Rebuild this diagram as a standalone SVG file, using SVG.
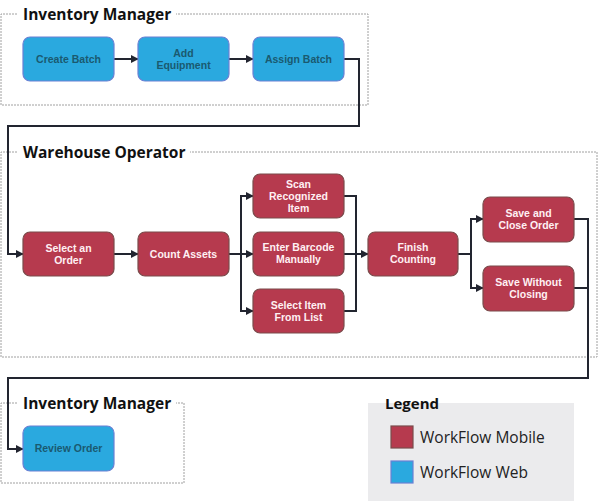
<svg xmlns="http://www.w3.org/2000/svg" width="598" height="501" viewBox="0 0 598 501">
<defs>
<marker id="ah" viewBox="0 0 10 10" refX="9" refY="5" markerWidth="8" markerHeight="8" markerUnits="userSpaceOnUse" orient="auto">
<path d="M0,0 L10,5 L0,10 z" fill="#222530"/>
</marker>
<style>
.lane{fill:none;stroke:#a0a0a0;stroke-width:1;stroke-dasharray:2,1}
.ltitle{font-family:"Open Sans","DejaVu Sans",sans-serif;font-weight:700;font-size:15.5px;fill:#111}
.web rect{fill:#2aa9df;stroke:#6a80d4;stroke-width:1.2}
.mob rect{fill:#b63a4e;stroke:#7a4b4b;stroke-width:1.2}
.web text{font-family:"Liberation Sans",Arial,sans-serif;font-weight:700;font-size:10.5px;fill:#1a5a70;text-anchor:middle}
.mob text{font-family:"Liberation Sans",Arial,sans-serif;font-weight:700;font-size:10.5px;fill:#fff0f3;text-anchor:middle}
.conn path{fill:none;stroke:#222530;stroke-width:2}
.leg{font-family:"Open Sans","DejaVu Sans",sans-serif;font-size:15.5px;fill:#222}
</style>
</defs>
<rect width="598" height="501" fill="#fff"/>

<g id="lane1">
<path class="lane" d="M17,14 H1 V105 H368 V14 H176"/>
<text class="ltitle" x="23" y="19.5">Inventory Manager</text>
</g>
<g id="lane2">
<path class="lane" d="M17,152 H1 V357 H597 V152 H190"/>
<text class="ltitle" x="23" y="157.5">Warehouse Operator</text>
</g>
<g id="lane3">
<path class="lane" d="M17,403 H1 V483 H184 V403 H176"/>
<text class="ltitle" x="23" y="408.5">Inventory Manager</text>
</g>

<g class="conn" id="connectors">
<path d="M114,59 H138" marker-end="url(#ah)"/>
<path d="M229,59 H253" marker-end="url(#ah)"/>
<path d="M344,59 H359 V126 H8 V254 H23" marker-end="url(#ah)"/>
<path d="M114,254 H138" marker-end="url(#ah)"/>
<path d="M229,254 H253" marker-end="url(#ah)"/>
<path d="M241,254 V196 H253" marker-end="url(#ah)"/>
<path d="M241,254 V311 H253" marker-end="url(#ah)"/>
<path d="M344,254 H368" marker-end="url(#ah)"/>
<path d="M344,196 H356 V311 H344"/>
<path d="M458,254 H471 V219 H483" marker-end="url(#ah)"/>
<path d="M471,254 V288 H483" marker-end="url(#ah)"/>
<path d="M574,219 H588 V378 H8 V449 H23" marker-end="url(#ah)"/>
<path d="M574,288 H588"/>
</g>

<g id="n-create-batch" class="web"><rect x="23" y="37" width="91" height="44" rx="7"/><text x="68.5" y="63">Create Batch</text></g>
<g id="n-add-equipment" class="web"><rect x="138" y="37" width="91" height="44" rx="7"/><text x="183.5" y="57">Add<tspan x="183.5" dy="12.2">Equipment</tspan></text></g>
<g id="n-assign-batch" class="web"><rect x="253" y="37" width="91" height="44" rx="7"/><text x="298.5" y="63">Assign Batch</text></g>

<g id="n-select-order" class="mob"><rect x="23" y="232" width="91" height="44" rx="7"/><text x="68.5" y="252">Select an<tspan x="68.5" dy="12.2">Order</tspan></text></g>
<g id="n-count-assets" class="mob"><rect x="138" y="232" width="91" height="44" rx="7"/><text x="183.5" y="258">Count Assets</text></g>
<g id="n-scan" class="mob"><rect x="253" y="174" width="91" height="44" rx="7"/><text x="298.5" y="187.5">Scan<tspan x="298.5" dy="12.2">Recognized</tspan><tspan x="298.5" dy="12.2">Item</tspan></text></g>
<g id="n-enter-barcode" class="mob"><rect x="253" y="232" width="91" height="44" rx="7"/><text x="298.5" y="251">Enter Barcode<tspan x="298.5" dy="12.2">Manually</tspan></text></g>
<g id="n-select-item" class="mob"><rect x="253" y="289" width="91" height="44" rx="7"/><text x="298.5" y="308.5">Select Item<tspan x="298.5" dy="12.2">From List</tspan></text></g>
<g id="n-finish" class="mob"><rect x="368" y="232" width="90" height="44" rx="7"/><text x="413" y="251">Finish<tspan x="413" dy="12.2">Counting</tspan></text></g>
<g id="n-save-close" class="mob"><rect x="483" y="197" width="91" height="45" rx="7"/><text x="528.5" y="216.5">Save and<tspan x="528.5" dy="12.2">Close Order</tspan></text></g>
<g id="n-save-without" class="mob"><rect x="483" y="266" width="91" height="45" rx="7"/><text x="528.5" y="285.5">Save Without<tspan x="528.5" dy="12.2">Closing</tspan></text></g>

<g id="n-review-order" class="web"><rect x="23" y="426" width="91" height="45" rx="7"/><text x="68.5" y="452">Review Order</text></g>

<g id="legend">
<rect x="368" y="403" width="206" height="98" fill="#ebebed"/>
<text x="385" y="409" style="font-family:'Open Sans','DejaVu Sans',sans-serif;font-weight:700;font-size:15px;fill:#111">Legend</text>
<rect x="391" y="426" width="22" height="22" fill="#b63a4e" stroke="#7a4b4b" stroke-width="1.2"/>
<text class="leg" x="420" y="443">WorkFlow Mobile</text>
<rect x="391" y="461" width="22" height="22" fill="#2aa9df" stroke="#6a80d4" stroke-width="1.2"/>
<text class="leg" x="420" y="478">WorkFlow Web</text>
</g>
</svg>
